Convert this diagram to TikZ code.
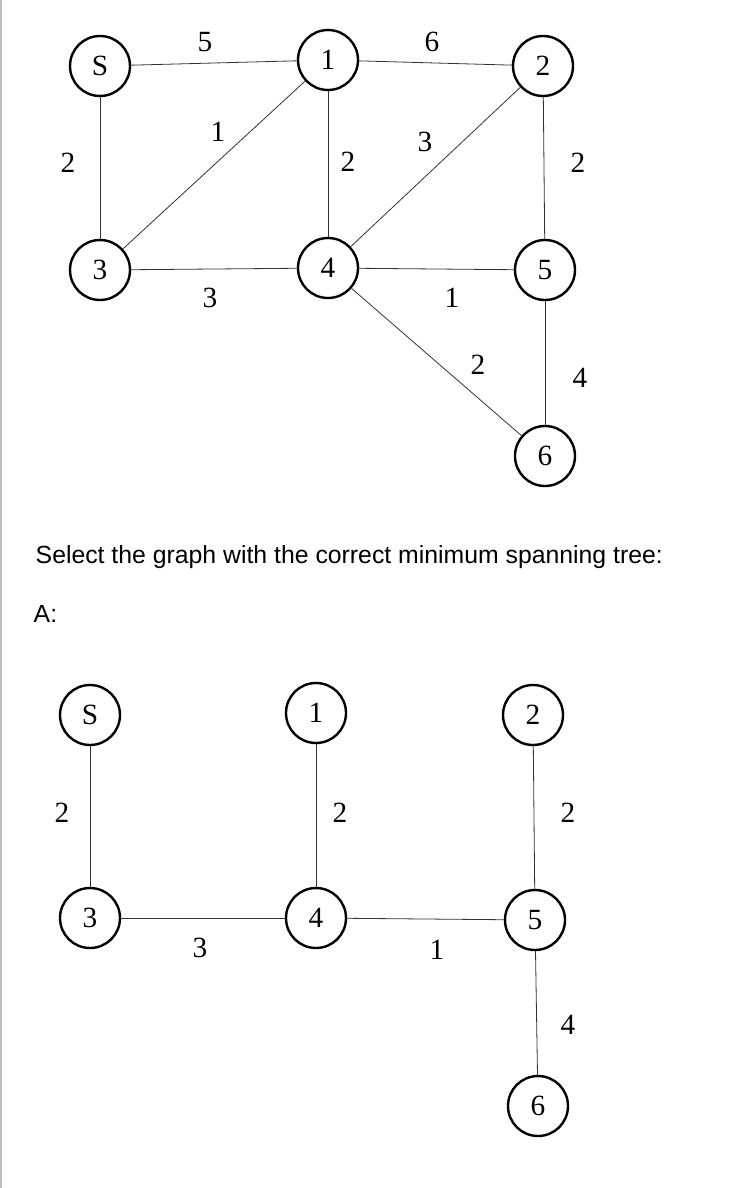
\documentclass[tikz,border=0pt]{standalone}
\usepackage{fontspec}
\setmainfont{Liberation Serif}
\newfontfamily\labsans{Liberation Sans}
\begin{document}
\begin{tikzpicture}[x=0.75pt,y=-0.75pt,
  vx/.style={circle,draw,line width=1.8pt,minimum size=45pt,inner sep=0pt,font=\fontsize{22}{22}\selectfont},
  ed/.style={line width=0.6pt,black!80},
  wl/.style={font=\fontsize{22}{22}\selectfont}]
\useasboundingbox (0,0) rectangle (752,1188);
\draw[gray!50,line width=1pt] (1,0) -- (1,1188);
% top graph
\node[vx] (S) at (100,66) {S};
\node[vx] (n1) at (328,60) {1};
\node[vx] (n2) at (543,66) {2};
\node[vx] (n3) at (100,270) {3};
\node[vx] (n4) at (328,268) {4};
\node[vx] (n5) at (545,270) {5};
\node[vx] (n6) at (545,456) {6};
\draw[ed] (S)--(n1); \draw[ed] (n1)--(n2); \draw[ed] (S)--(n3);
\draw[ed] (n3)--(n1); \draw[ed] (n1)--(n4); \draw[ed] (n4)--(n2);
\draw[ed] (n2)--(n5); \draw[ed] (n3)--(n4); \draw[ed] (n4)--(n5);
\draw[ed] (n4)--(n6); \draw[ed] (n5)--(n6);
\node[wl] (w1) at (205,42) {5};
\node[wl] (w2) at (432,42) {6};
\node[wl] (w3) at (68,163) {2};
\node[wl] (w4) at (218,132) {1};
\node[wl] (w5) at (348,162) {2};
\node[wl] (w6) at (425,142) {3};
\node[wl] (w7) at (578,163) {2};
\node[wl] (w8) at (210,298) {3};
\node[wl] (w9) at (452,298) {1};
\node[wl] (w10) at (478,365) {2};
\node[wl] (w11) at (580,378) {4};
\node[anchor=west,font=\labsans\fontsize{18.6}{18.6}\selectfont] (q) at (31,557) {Select the graph with the correct minimum spanning tree:};
\node[anchor=west,font=\labsans\fontsize{18.6}{18.6}\selectfont] (a) at (29,614) {A:};
% bottom
\node[vx] (bS) at (90,715) {S};
\node[vx] (b1) at (316,713) {1};
\node[vx] (b2) at (533,715) {2};
\node[vx] (b3) at (90,918) {3};
\node[vx] (b4) at (316,918) {4};
\node[vx] (b5) at (535,920) {5};
\node[vx] (b6) at (538,1106) {6};
\draw[ed] (bS)--(b3); \draw[ed] (b1)--(b4); \draw[ed] (b2)--(b5);
\draw[ed] (b3)--(b4); \draw[ed] (b4)--(b5); \draw[ed] (b5)--(b6);
\node[wl] (x1) at (62,813) {2};
\node[wl] (x2) at (340,813) {2};
\node[wl] (x3) at (568,813) {2};
\node[wl] (x4) at (200,948) {3};
\node[wl] (x5) at (437,950) {1};
\node[wl] (x6) at (568,1025) {4};
\end{tikzpicture}
\end{document}
